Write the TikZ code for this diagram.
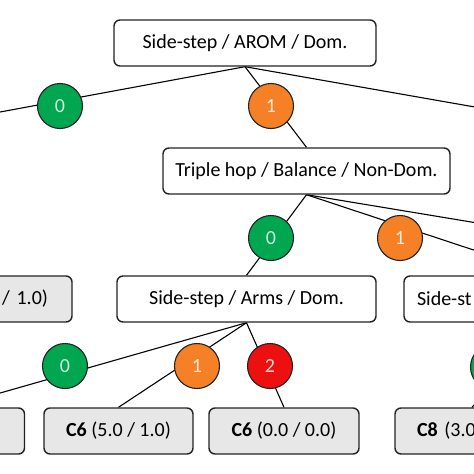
\documentclass[tikz,border=0pt]{standalone}
\usepackage{fontspec}
\setmainfont{Carlito}
\usetikzlibrary{backgrounds}

\definecolor{brGreen}{RGB}{0,166,80}
\definecolor{brOrange}{RGB}{245,128,37}
\definecolor{brRed}{RGB}{236,16,16}
\definecolor{leafGray}{RGB}{231,231,231}
\definecolor{lineDark}{RGB}{35,35,35}

\tikzset{
  decision/.style={draw=lineDark, line width=1.4pt, rounded corners=6pt, fill=white,
    minimum height=46pt, inner sep=0pt, font=\fontsize{20}{24}\selectfont},
  leaf/.style={decision, fill=leafGray},
  branch/.style={circle, draw=lineDark, line width=1.1pt, minimum size=45pt, inner sep=0pt,
    font=\fontsize{20}{24}\selectfont},
  zero/.style={branch, fill=brGreen, text=white!80!brGreen},
  one/.style={branch, fill=brOrange, text=white!85!brOrange},
  two/.style={branch, fill=brRed, text=white!85!brRed},
  edge/.style={line width=1.1pt, black}
}

\begin{document}
\begin{tikzpicture}[x=1pt, y=-1pt]
        \def\W{474} \def\H{474}
        \useasboundingbox (0,0) rectangle (\W,\H);
        \clip (0,0) rectangle (\W,\H);

        % decision boxes
        \node (root) at (245,43) [decision, minimum width=262pt] {Side-step / AROM / Dom.};
        \node (triple) at (306.5,171) [decision, minimum width=287pt] {Triple hop / Balance / Non-Dom.};
        \node (arms) at (246.5,299) [decision, minimum width=259pt] {Side-step / Arms / Dom.};
        \node (sideR) at (550,299) [decision, text width=266pt, inner xsep=13pt, align=left] {Side-st};

        % leaves
        \node (leafL) at (-2.5,299) [leaf, text width=101pt, inner xsep=24pt, align=right] {/ 1.0)};
        \node (leafA) at (-50,431) [leaf, minimum width=149pt] {};
        \node (leafB) at (118.5,431) [leaf, minimum width=149pt] {\textbf{C6} (5.0 / 1.0)};
        \node (leafC) at (284,431) [leaf, minimum width=150pt] {\textbf{C6} (0.0 / 0.0)};
        \node (leafD) at (472,431) [leaf, text width=110pt, inner xsep=22pt, align=left] {\textbf{C8} (3.0};

        % ends that run off the picture
        \coordinate (offL) at (-200,149);
        \coordinate (offR) at (700,146.5);
        \coordinate (offT) at (797,276);

        % branch values
        \node (b1) at (60,106) [zero] {0};
        \node (b2) at (271,106) [one] {1};
        \node (b3) at (271,238) [zero] {0};
        \node (b4) at (400,238) [one] {1};
        \node (b5) at (65,366) [zero] {0};
        \node (b6) at (197,366) [one] {1};
        \node (b7) at (270,366) [two] {2};
        \node (b8) at (493,367) [zero] {};

        \begin{pgfonlayer}{background}
        \clip (0,0) rectangle (\W,\H);
        \draw[edge] (root.south) -- (offL);
        \draw[edge] (root.south) -- (triple.north);
        \draw[edge] (root.south) -- (offR);
        \draw[edge] (triple.south) -- (arms.north);
        \draw[edge] (triple.south) -- (sideR.north);
        \draw[edge] (triple.south) -- (offT);
        \draw[edge] (arms.south) -- (leafA.north);
        \draw[edge] (arms.south) -- (leafB.north);
        \draw[edge] (arms.south) -- (leafC.north);
        \draw[edge] (sideR.south) -- (leafD.north);
        \end{pgfonlayer}
\end{tikzpicture}
\end{document}
